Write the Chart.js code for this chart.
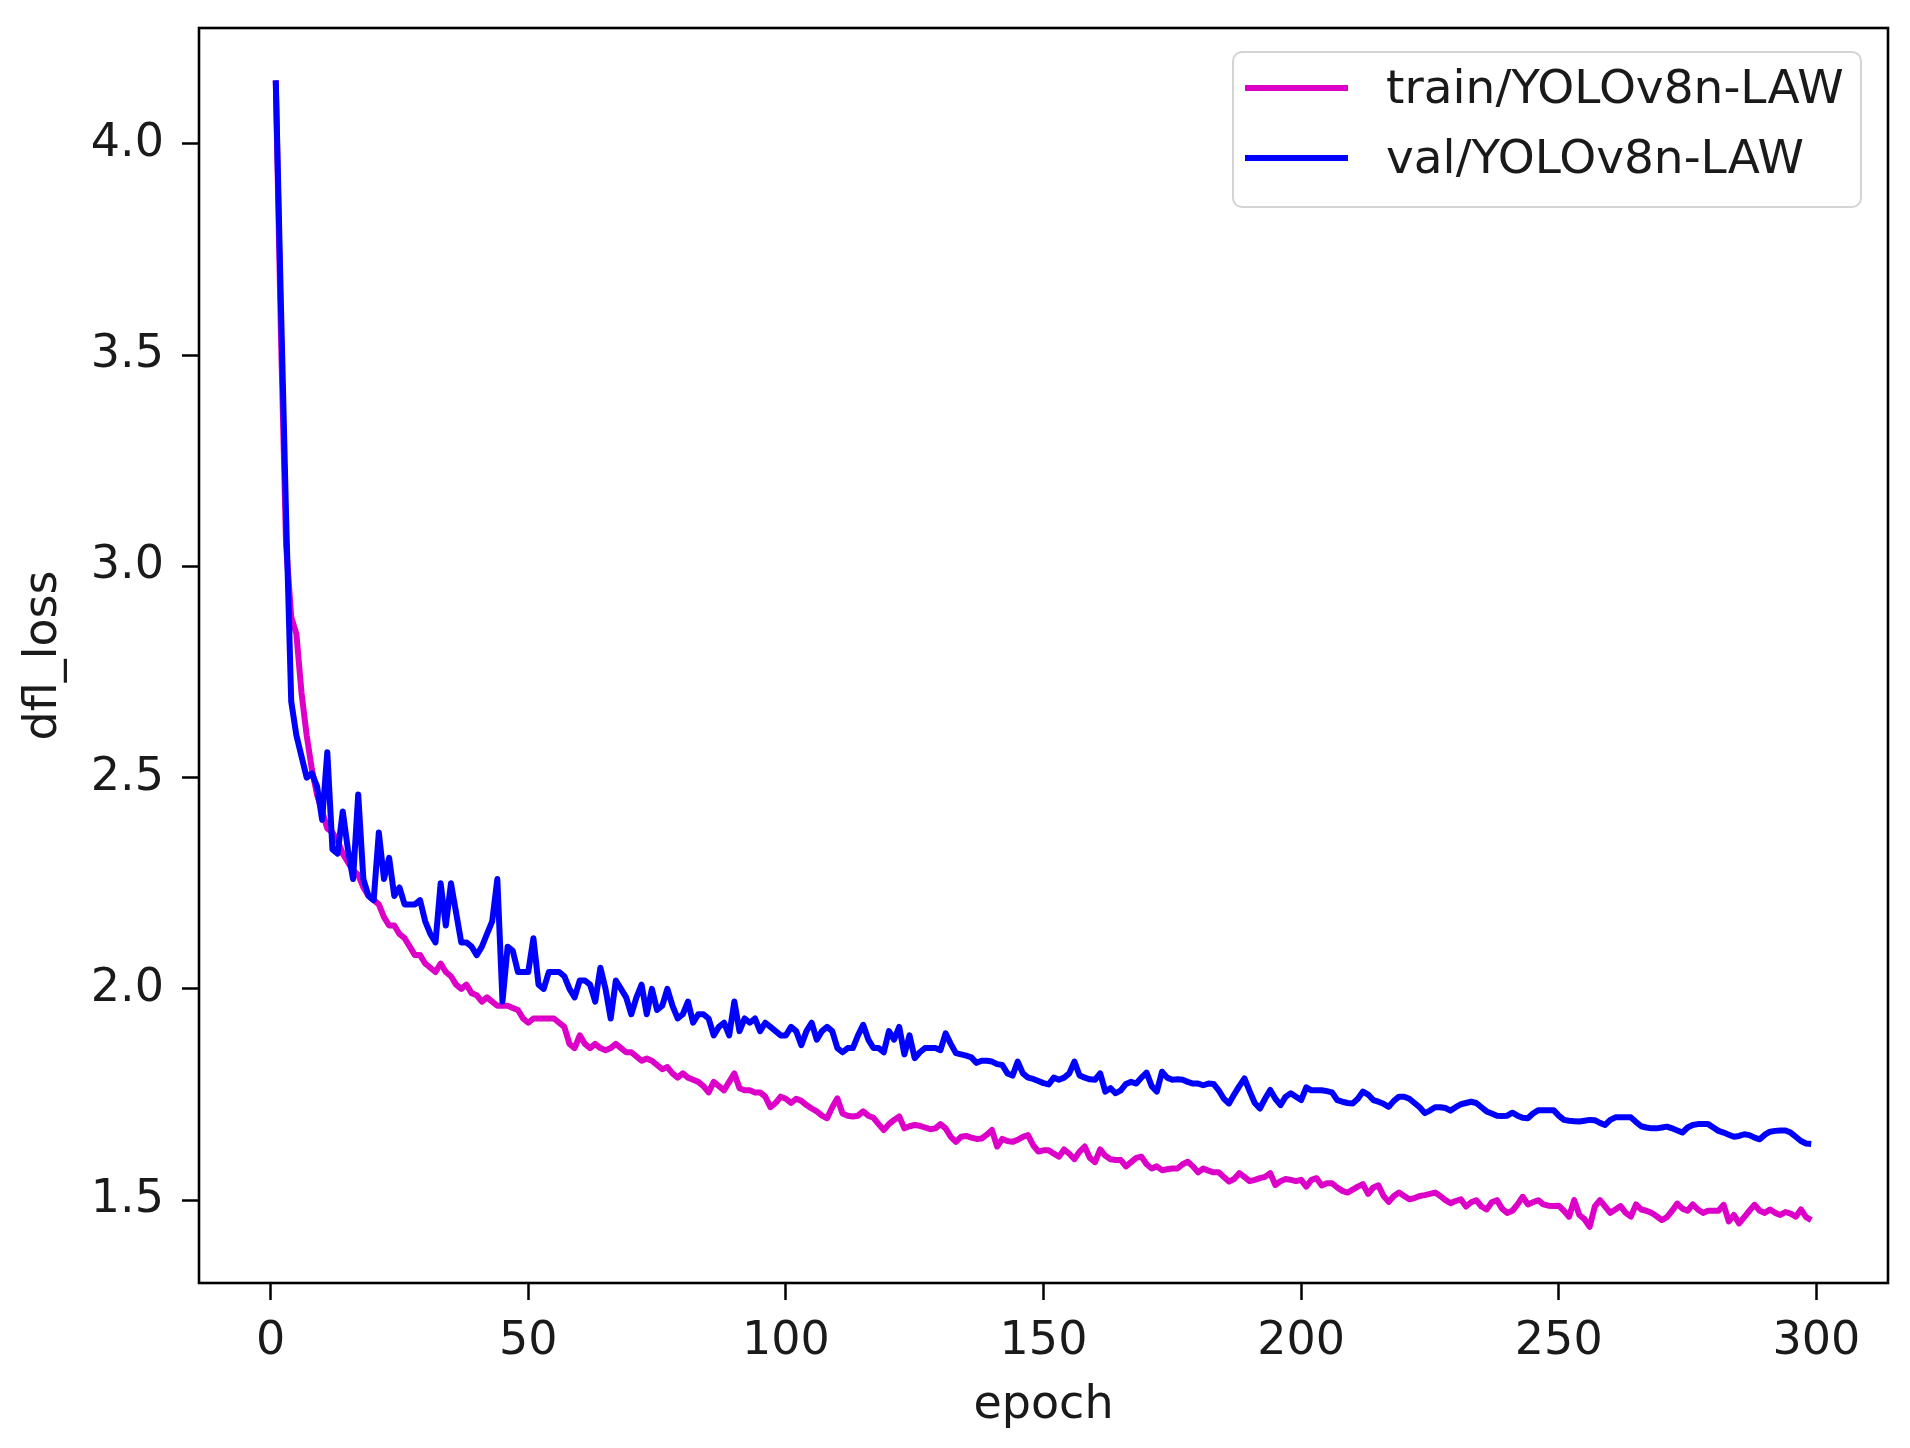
<!DOCTYPE html>
<html>
<head>
  <title>dfl_loss</title>
  <script src="https://cdn.jsdelivr.net/npm/chart.js"></script>
  <style>
    html, body { margin: 0; padding: 0; background: #fff; }
  </style>
</head>
<body>
  <canvas id="lossChart" width="1910" height="1448"></canvas>

  <script>
    // epochs 1..299, values
    const trainLoss = [
      4.15, 3.55, 3.05, 2.88, 2.84, 2.70, 2.60, 2.52, 2.46, 2.42,
      2.38, 2.37, 2.35, 2.32, 2.30, 2.28, 2.27, 2.24, 2.22, 2.21,
      2.20, 2.17, 2.15, 2.15, 2.13, 2.12, 2.10, 2.08, 2.08, 2.06,
      2.05, 2.04, 2.06, 2.04, 2.03, 2.01, 2.00, 2.01, 1.99, 1.985,
      1.97, 1.98, 1.97, 1.96, 1.96, 1.96, 1.955, 1.95, 1.93, 1.92,
      1.93, 1.93, 1.93, 1.93, 1.93, 1.92, 1.91, 1.87, 1.86, 1.89,
      1.87, 1.86, 1.87, 1.86, 1.855, 1.86, 1.87, 1.86, 1.85, 1.85,
      1.84, 1.83, 1.835, 1.83, 1.82, 1.81, 1.815, 1.80, 1.79, 1.80,
      1.79, 1.785, 1.78, 1.77, 1.755, 1.78, 1.77, 1.76, 1.78, 1.80,
      1.765, 1.76, 1.76, 1.755, 1.755, 1.745, 1.72, 1.73, 1.745, 1.74,
      1.73, 1.74, 1.735, 1.725, 1.717, 1.71, 1.70, 1.694, 1.72, 1.741,
      1.705, 1.70, 1.698, 1.70, 1.71, 1.70, 1.695, 1.68, 1.666, 1.68,
      1.69, 1.698, 1.67, 1.675, 1.678, 1.676, 1.672, 1.668, 1.67, 1.68,
      1.67, 1.65, 1.638, 1.65, 1.652, 1.648, 1.645, 1.646, 1.655, 1.666,
      1.627, 1.645, 1.64, 1.638, 1.643, 1.65, 1.654, 1.63, 1.615, 1.618,
      1.618, 1.61, 1.603, 1.62, 1.61, 1.597, 1.615, 1.627, 1.60, 1.59,
      1.62, 1.605, 1.597, 1.595, 1.595, 1.58, 1.59, 1.60, 1.603, 1.585,
      1.575, 1.58, 1.571, 1.573, 1.575, 1.575, 1.585, 1.591, 1.58, 1.566,
      1.575, 1.57, 1.566, 1.566, 1.555, 1.544, 1.55, 1.564, 1.555, 1.545,
      1.548, 1.552, 1.555, 1.564, 1.536, 1.545, 1.55, 1.548, 1.545, 1.548,
      1.532, 1.548, 1.552, 1.535, 1.54, 1.54, 1.53, 1.522, 1.518, 1.525,
      1.532, 1.538, 1.515, 1.53, 1.535, 1.51, 1.496, 1.51, 1.518, 1.51,
      1.502, 1.505, 1.51, 1.512, 1.515, 1.518, 1.51, 1.50, 1.493, 1.498,
      1.502, 1.485, 1.495, 1.50, 1.485, 1.478, 1.495, 1.50, 1.48, 1.47,
      1.475, 1.49, 1.508, 1.49, 1.495, 1.50, 1.49, 1.487, 1.486, 1.487,
      1.475, 1.461, 1.50, 1.465, 1.455, 1.437, 1.485, 1.50, 1.485, 1.47,
      1.478, 1.486, 1.47, 1.461, 1.49, 1.478, 1.475, 1.47, 1.462, 1.453,
      1.46, 1.475, 1.492, 1.48, 1.475, 1.49, 1.478, 1.47, 1.475, 1.475,
      1.475, 1.489, 1.45, 1.465, 1.445, 1.46, 1.475, 1.489, 1.475, 1.47,
      1.478, 1.47, 1.465, 1.472, 1.468, 1.461, 1.478, 1.46, 1.453
    ];

    const valLoss = [
      4.15, 3.62, 3.12, 2.68, 2.60, 2.55, 2.50, 2.51, 2.48, 2.40,
      2.56, 2.33, 2.32, 2.42, 2.33, 2.26, 2.46, 2.26, 2.22, 2.21,
      2.37, 2.26, 2.31, 2.22, 2.24, 2.20, 2.20, 2.20, 2.21, 2.16,
      2.13, 2.11, 2.25, 2.15, 2.25, 2.18, 2.11, 2.11, 2.10, 2.08,
      2.10, 2.13, 2.16, 2.26, 1.97, 2.10, 2.09, 2.04, 2.04, 2.04,
      2.12, 2.01, 2.00, 2.04, 2.04, 2.04, 2.03, 2.00, 1.98, 2.02,
      2.02, 2.01, 1.97, 2.05, 2.00, 1.93, 2.02, 2.00, 1.98, 1.94,
      1.98, 2.01, 1.94, 2.00, 1.95, 1.96, 2.00, 1.96, 1.93, 1.94,
      1.97, 1.92, 1.94, 1.94, 1.93, 1.89, 1.91, 1.92, 1.89, 1.97,
      1.90, 1.93, 1.92, 1.93, 1.90, 1.92, 1.91, 1.90, 1.89, 1.89,
      1.91, 1.90, 1.867, 1.90, 1.92, 1.88, 1.90, 1.91, 1.90, 1.86,
      1.85, 1.86, 1.86, 1.89, 1.915, 1.88, 1.86, 1.86, 1.85, 1.90,
      1.88, 1.91, 1.845, 1.89, 1.836, 1.85, 1.86, 1.86, 1.86, 1.855,
      1.895, 1.87, 1.848, 1.845, 1.842, 1.838, 1.825, 1.83, 1.83, 1.828,
      1.822, 1.82, 1.80, 1.795, 1.828, 1.80, 1.79, 1.787, 1.782, 1.777,
      1.774, 1.79, 1.785, 1.79, 1.80, 1.828, 1.795, 1.79, 1.786, 1.785,
      1.80, 1.757, 1.765, 1.753, 1.76, 1.775, 1.78, 1.776, 1.79, 1.802,
      1.77, 1.757, 1.804, 1.79, 1.785, 1.786, 1.785, 1.78, 1.776, 1.776,
      1.772, 1.776, 1.775, 1.76, 1.74, 1.729, 1.75, 1.77, 1.788, 1.758,
      1.73, 1.717, 1.74, 1.761, 1.74, 1.725, 1.745, 1.753, 1.745, 1.737,
      1.767, 1.76, 1.76, 1.76, 1.758, 1.755, 1.737, 1.733, 1.73, 1.729,
      1.74, 1.757, 1.75, 1.737, 1.733, 1.728, 1.721, 1.735, 1.745, 1.745,
      1.74, 1.73, 1.72, 1.706, 1.712, 1.72, 1.72, 1.718, 1.712, 1.72,
      1.727, 1.73, 1.733, 1.73, 1.72, 1.71, 1.705, 1.70, 1.699, 1.70,
      1.707, 1.70, 1.695, 1.694, 1.705, 1.713, 1.713, 1.713, 1.713, 1.70,
      1.69, 1.688, 1.687, 1.686, 1.688, 1.69, 1.689, 1.683, 1.678, 1.69,
      1.696, 1.696, 1.696, 1.696, 1.685, 1.675, 1.672, 1.67, 1.67, 1.672,
      1.674, 1.67, 1.665, 1.66, 1.672, 1.678, 1.68, 1.68, 1.68, 1.672,
      1.664, 1.66, 1.655, 1.65, 1.652, 1.656, 1.654, 1.648, 1.644, 1.655,
      1.662, 1.664, 1.665, 1.665, 1.66, 1.65, 1.64, 1.634, 1.633
    ];

    const firstEpoch = 1;
    const seriesNames = ['train/YOLOv8n-LAW', 'val/YOLOv8n-LAW'];
    const xTicks = [0, 50, 100, 150, 200, 250, 300];
    const yTicks = [1.5, 2.0, 2.5, 3.0, 3.5, 4.0];

    const toPoints = arr => arr.map((v, i) => ({ x: firstEpoch + i, y: v }));

    const FONT = 'DejaVu Sans';
    const TEXT = '#1a1a1a';

    // axes frame + legend box drawn like matplotlib
    const framePlugin = {
      id: 'frame',
      afterDraw(chart) {
        const { ctx, chartArea: a } = chart;
        ctx.save();
        ctx.strokeStyle = '#000';
        ctx.lineWidth = 2.6;
        ctx.strokeRect(a.left, a.top, a.right - a.left, a.bottom - a.top);

        // legend
        const bx = 1233, by = 52, bw = 628, bh = 155, r = 9;
        ctx.beginPath();
        ctx.moveTo(bx + r, by);
        ctx.arcTo(bx + bw, by, bx + bw, by + bh, r);
        ctx.arcTo(bx + bw, by + bh, bx, by + bh, r);
        ctx.arcTo(bx, by + bh, bx, by, r);
        ctx.arcTo(bx, by, bx + bw, by, r);
        ctx.closePath();
        ctx.fillStyle = 'rgba(255,255,255,0.8)';
        ctx.fill();
        ctx.strokeStyle = '#d4d4d4';
        ctx.lineWidth = 2;
        ctx.stroke();

        const rows = [88, 158];
        chart.data.datasets.forEach((ds, i) => {
          const y = rows[i];
          ctx.strokeStyle = ds.borderColor;
          ctx.lineWidth = ds.borderWidth;
          ctx.lineCap = 'butt';
          ctx.beginPath();
          ctx.moveTo(1245, y);
          ctx.lineTo(1348, y);
          ctx.stroke();
          ctx.fillStyle = TEXT;
          ctx.font = '47px "' + FONT + '"';
          ctx.textBaseline = 'alphabetic';
          ctx.textAlign = 'left';
          ctx.fillText(ds.label, 1386, y + 15);
        });
        ctx.restore();
      }
    };

    const ctx = document.getElementById('lossChart').getContext('2d');
    new Chart(ctx, {
      type: 'line',
      data: {
        datasets: [
          {
            label: seriesNames[0],
            data: toPoints(trainLoss),
            borderColor: '#dc00c8',
            borderWidth: 6,
            pointRadius: 0,
            tension: 0,
            borderJoinStyle: 'round',
            order: 2
          },
          {
            label: seriesNames[1],
            data: toPoints(valLoss),
            borderColor: '#0000ff',
            borderWidth: 6,
            pointRadius: 0,
            tension: 0,
            borderJoinStyle: 'round',
            order: 1
          }
        ]
      },
      options: {
        responsive: false,
        animation: false,
        layout: { padding: { left: 0, top: 0, right: 22, bottom: 0 } },
        plugins: {
          legend: { display: false },
          tooltip: { enabled: false }
        },
        scales: {
          x: {
            type: 'linear',
            min: -13.9,
            max: 313.9,
            afterBuildTicks: axis => { axis.ticks = xTicks.map(v => ({ value: v })); },
            afterFit: axis => { axis.height = 165; },
            ticks: {
              color: TEXT,
              font: { family: FONT, size: 46 },
              padding: 14,
              maxRotation: 0,
              autoSkip: false
            },
            grid: {
              drawOnChartArea: false,
              tickLength: 17,
              tickWidth: 2.5,
              tickColor: '#000'
            },
            border: { display: false },
            title: {
              display: true,
              text: 'epoch',
              color: TEXT,
              font: { family: FONT, size: 46 },
              padding: { top: 0, bottom: 14 }
            }
          },
          y: {
            type: 'linear',
            min: 1.304,
            max: 4.274,
            afterBuildTicks: axis => { axis.ticks = yTicks.map(v => ({ value: v })); },
            afterFit: axis => {
              axis.width = 199;
              axis.paddingTop = 28;
            },
            ticks: {
              color: TEXT,
              font: { family: FONT, size: 46 },
              padding: 18,
              callback: v => v.toFixed(1)
            },
            grid: {
              drawOnChartArea: false,
              tickLength: 17,
              tickWidth: 2.5,
              tickColor: '#000'
            },
            border: { display: false },
            title: {
              display: true,
              text: 'dfl_loss',
              color: TEXT,
              font: { family: FONT, size: 46 },
              padding: { top: 16, bottom: 0 }
            }
          }
        }
      },
      plugins: [framePlugin]
    });
  </script>
</body>
</html>
